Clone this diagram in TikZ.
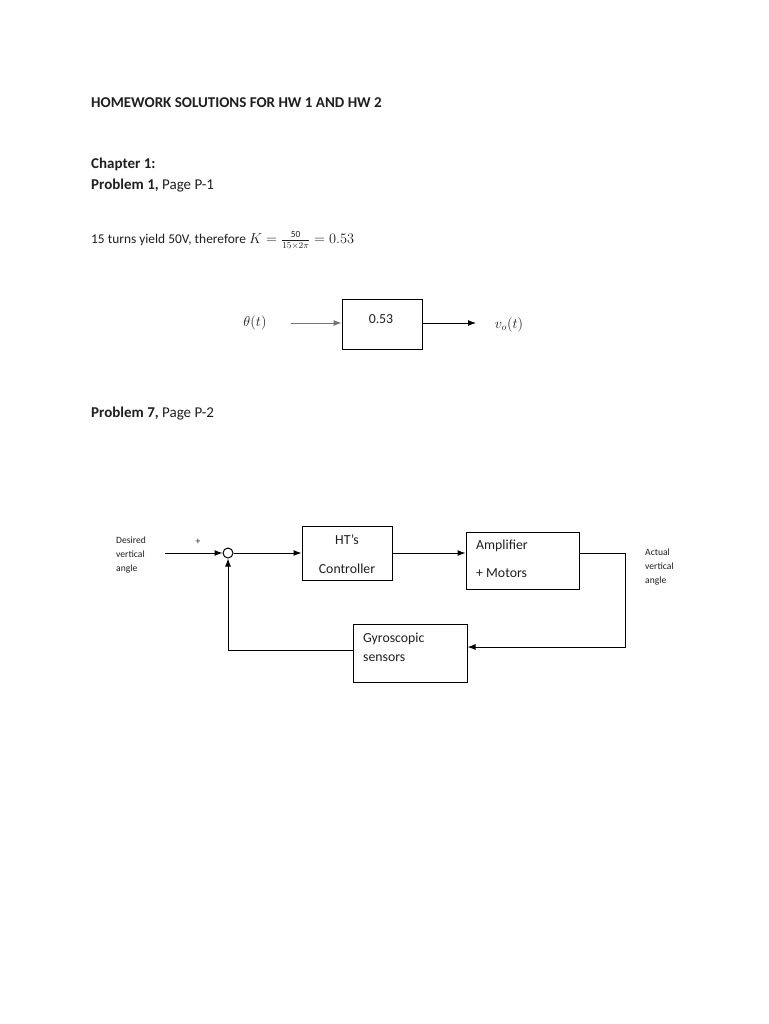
\documentclass[tikz,border=0pt]{standalone}
\usepackage{fontspec}
\setmainfont{Carlito}
\usetikzlibrary{arrows.meta}
\begin{document}
\begin{tikzpicture}[x=1pt,y=-1pt,
  txt/.style={inner sep=0pt,font=\fontsize{13.8}{16.5}\selectfont,text=black!88},
  head/.style={inner sep=0pt,font=\fontsize{15}{18}\selectfont,text=black!88},
  small/.style={inner sep=0pt,font=\fontsize{9.6}{13.6}\selectfont,align=left,text=black!88},
  blk/.style={draw,line width=1pt,inner sep=0pt},
  conn/.style={line width=1pt,-{Latex[length=8pt,width=6pt]}},
  plain/.style={line width=1pt}]
\useasboundingbox[fill=white] (0,0) rectangle (768,1024);
% headings
\node[head,anchor=base west] (title) at (91,108) {\textbf{HOMEWORK SOLUTIONS FOR HW 1 AND HW 2}};
\node[head,anchor=base west] (chap) at (91,169) {\textbf{Chapter 1:}};
\node[head,anchor=base west] (p1) at (91,190) {\textbf{Problem 1,} Page P-1};
\node[txt,anchor=base west,font=\fontsize{13.4}{16}\selectfont] (eq) at (91,243.5) {15 turns yield 50V, therefore $K=\frac{\mathrm{50}}{15\times 2\pi}=0.53$};
\node[head,anchor=base west] (p7) at (91,417) {\textbf{Problem 7,} Page P-2};
% problem 1 block
\node[blk,minimum width=80pt,minimum height=50pt] (b1) at (382,324) {};
\node[txt] (b1t) at (381,319) {0.53};
\node[txt,font=\fontsize{14.5}{17}\selectfont] (theta) at (255,323) {$\theta(t)$};
\node[txt,font=\fontsize{14.5}{17}\selectfont] (vo) at (509,325) {$v_o(t)$};
\coordinate (in1) at (291,323);
\coordinate (out1) at (476,323);
\draw[conn,draw=black!55] (in1) -- (in1 -| b1.west);
\draw[conn] (b1.east |- out1) -- (out1);
% problem 7 diagram
\node[small,anchor=west] (des) at (116,555) {Desired\\vertical\\angle};
\node[small] (plus) at (198,542) {+};
\node[small,anchor=west] (act) at (645,567) {Actual\\vertical\\angle};
\node[draw,circle,line width=1pt,minimum size=10pt,inner sep=0pt] (sum) at (228,553) {};
\node[blk,minimum width=90pt,minimum height=54pt] (ctrl) at (347,553) {};
\node[txt] (ctrl1) at (347,540) {HT’s};
\node[txt] (ctrl2) at (347,569) {Controller};
\node[blk,minimum width=113pt,minimum height=57pt] (amp) at (522.5,560.5) {};
\node[txt,anchor=base west] (amp1) at (476,549.5) {Amplifier};
\node[txt,anchor=base west] (amp2) at (476,577.5) {+ Motors};
\node[blk,minimum width=114pt,minimum height=58pt] (gyro) at (410,653) {};
\node[txt,anchor=base west] (gyro1) at (363,642.5) {Gyroscopic};
\node[txt,anchor=base west] (gyro2) at (363,661.5) {sensors};
\coordinate (in2) at (165,553);
\coordinate (ao) at (579,553);
\coordinate (c1) at (625,553);
\coordinate (c2) at (625,647);
\coordinate (gw) at (353,650);
\coordinate (c3) at (228,650);
\draw[conn] (in2) -- (sum.west);
\draw[conn] (sum.east) -- (ctrl.west |- sum.east);
\draw[conn] (ctrl.east) -- (ctrl.east -| amp.west);
\draw[conn] (ao) -- (c1) -- (c2) -- (c2 -| gyro.east);
\draw[conn] (gw) -- (c3) -- (sum.south);
\end{tikzpicture}
\end{document}
